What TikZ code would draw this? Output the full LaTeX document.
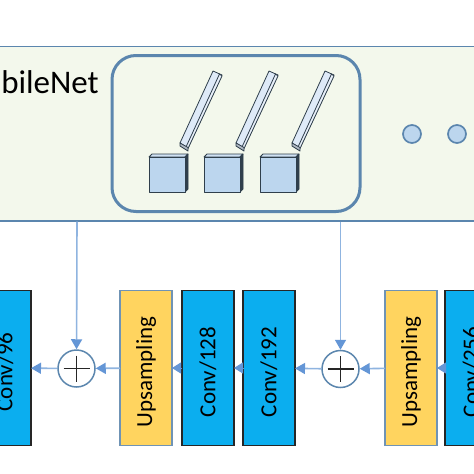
\documentclass[tikz,border=0pt]{standalone}
\usepackage{fontspec}
\setmainfont{Carlito}
\usetikzlibrary{arrows.meta}
\definecolor{bandfill}{HTML}{F3F8EC}
\definecolor{bandline}{HTML}{5B86AE}
\definecolor{cubefill}{HTML}{BCD6EE}
\definecolor{barfill}{HTML}{DEEAF8}
\definecolor{convfill}{HTML}{0BAEEF}
\definecolor{upfill}{HTML}{FFD45F}
\definecolor{upline}{HTML}{6F93B5}
\definecolor{arrowcol}{HTML}{8FB4E0}
\definecolor{tipcol}{HTML}{6496D6}
\definecolor{edgecol}{HTML}{2F3F4C}
\tikzset{
 x=1pt,y=-1pt,
 convbox/.style={draw=black!85,line width=1.7pt,fill=convfill,minimum width=52pt,minimum height=155pt,inner sep=0pt,outer sep=0pt,anchor=north west},
 upbox/.style={draw=upline,line width=1.7pt,fill=upfill,minimum width=52pt,minimum height=155pt,inner sep=0pt,outer sep=0pt,anchor=north west},
 boxtext/.style={rotate=90,font=\fontsize{23}{23}\selectfont,text=black},
 sumnode/.style={circle,draw=bandline,line width=1.5pt,fill=white,minimum size=37pt,inner sep=0pt},
 link/.style={draw=arrowcol,line width=1.6pt,-{Triangle[length=10pt,width=11pt,fill=tipcol,color=tipcol]}},
 shortlink/.style={draw=tipcol,line width=1pt,-{Triangle[length=9pt,width=11pt,fill=tipcol,color=tipcol]}},
 dotnode/.style={circle,draw=bandline,line width=1.7pt,fill=cubefill,minimum size=18pt,inner sep=0pt},
 solid3d/.style={draw=edgecol,line width=.8pt,line join=round},
}
\newcommand{\cubeat}[2]{%
 \draw[solid3d,fill=cubefill!70!white] (#1,#2) -- ++(3,-3) -- ++(36,0) -- ++(-3,3) -- cycle;
 \draw[solid3d,fill=edgecol] (#1+36,#2) -- ++(3,-3) -- ++(0,35) -- ++(-3,3) -- cycle;
 \draw[solid3d,fill=cubefill] (#1,#2) rectangle ++(36,35);
}
\newcommand{\barat}[1]{%
 \begin{scope}[xshift=#1pt]
 \draw[solid3d,fill=barfill] (180,143) -- (213,71) -- (222,75) -- (188,148) -- cycle;
 \draw[solid3d,fill=barfill!70!white] (219.5,74) -- (186,147) -- (188,148.5) -- (222,76) -- cycle;
 \draw[solid3d,fill=barfill!80!black] (180,143) -- (188,147.5) -- (188,151) -- (180,146) -- cycle;
 \end{scope}
}
\begin{document}
\begin{tikzpicture}
\useasboundingbox (0,0) rectangle (474,474);
\clip (0,0) rectangle (474,474);
\fill[white] (0,0) rectangle (474,474);
\fill[bandfill] (-5,47) rectangle (474,221);
\draw[bandline,line width=1.8pt] (-5,46.5) -- (474,46.5);
\draw[bandline,line width=1.5pt] (-5,221) -- (474,221);
\node[anchor=base east,font=\fontsize{33}{33}\selectfont,text=black,inner sep=0pt] (title) at (99,93.5) {MobileNet};
\node[draw=bandline,line width=3pt,rounded corners=24pt,fill=bandfill,minimum width=248pt,minimum height=156pt,inner sep=0pt] (group) at (236,133.5) {};
\barat{0}\barat{56}\barat{112}
\cubeat{149}{157}\cubeat{204}{157}\cubeat{260}{157}
\node[dotnode] (dotone) at (412,134) {};
\node[dotnode] (dottwo) at (457,134) {};
\coordinate (tapone) at (77,221.5);
\coordinate (taptwo) at (340.5,221.5);
\node[convbox] (convA) at (-21,290.5) {};
\node[boxtext] at (5,372) {Conv/96};
\node[upbox] (upA) at (120,290.5) {};
\node[boxtext] at (146,372) {Upsampling};
\node[convbox] (convB) at (182,290.5) {};
\node[boxtext] at (208,372) {Conv/128};
\node[convbox] (convC) at (243,290.5) {};
\node[boxtext] at (269,372) {Conv/192};
\node[upbox] (upB) at (385,290.5) {};
\node[boxtext] at (411,372) {Upsampling};
\node[convbox] (convD) at (445,290.5) {};
\node[boxtext] at (471,372) {Conv/256};
\node[sumnode] (sumA) at (76.5,368.5) {};
\node[sumnode] (sumB) at (340.5,369) {};
\draw[black!85,line width=1.1pt] (sumA.center) +(-13,0) -- +(13,0) (sumA.center) +(0,-13) -- +(0,13);
\draw[black!85,line width=1.1pt] (sumB.center) +(-13,0) -- +(13,0) (sumB.center) +(0,-13) -- +(0,13);
\draw[link] (tapone) -- (sumA);
\draw[link] (taptwo) -- (sumB);
\draw[link] (sumA) -- (convA);
\draw[link] (upA) -- (sumA);
\draw[link] (sumB) -- (convC);
\draw[link] (upB) -- (sumB);
\draw[shortlink] (convB) -- (upA);
\draw[shortlink] (convC) -- (convB);
\draw[shortlink] (convD) -- (upB);
\end{tikzpicture}
\end{document}
